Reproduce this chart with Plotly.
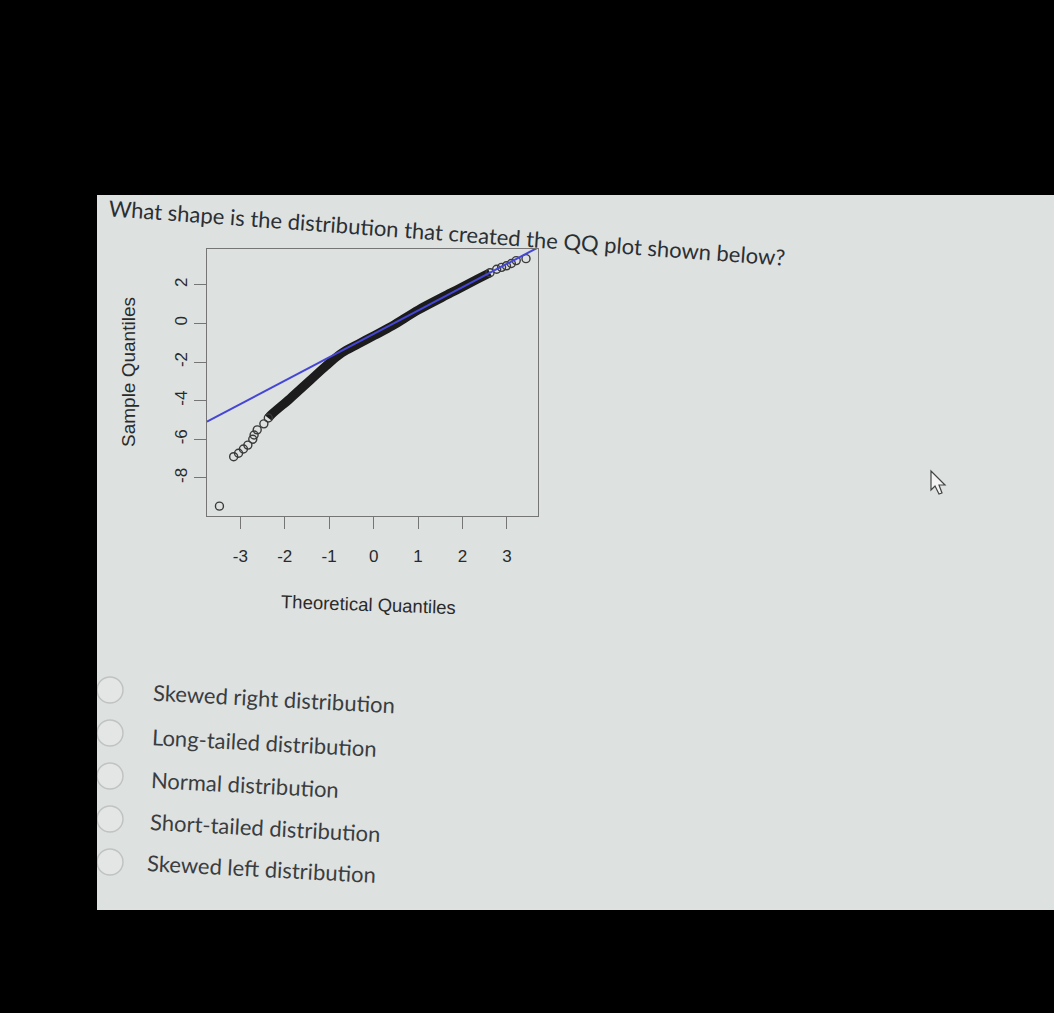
import plotly.graph_objects as go

W, H = 1054, 1013

# ---- data ----
tail_low_x = [-3.47, -3.15, -3.04, -2.93, -2.83, -2.72, -2.69, -2.62, -2.47, -2.37]
tail_low_y = [-9.46, -6.90, -6.72, -6.50, -6.30, -6.00, -5.78, -5.51, -5.20, -4.90]
band_x = [-2.37, -2.30, -1.88, -1.43, -1.07, -0.72, -0.34, 0.02, 0.42, 1.01, 1.74, 2.33, 2.62]
band_y = [-4.90, -4.72, -3.89, -2.95, -2.20, -1.54, -1.06, -0.62, -0.13, 0.70, 1.58, 2.28, 2.62]
tail_high_x = [2.62, 2.77, 2.88, 2.99, 3.10, 3.21, 3.43]
tail_high_y = [2.62, 2.80, 2.90, 2.98, 3.10, 3.25, 3.35]
qq_intercept = -0.55
qq_slope = 1.21
x_range = [-3.75, 3.70]
y_range = [-9.97, 3.85]
x_ticks = [-3, -2, -1, 0, 1, 2, 3]
x_tick_text = ["-3", "-2", "-1", "0", "1", "2", "3"]
y_ticks = [-8, -6, -4, -2, 0, 2]
y_tick_text = ["-8", "-6", "-4", "-2", "0", "2"]

question = "What shape is the distribution that created the QQ plot shown below?"
options = ["Skewed right distribution", "Long-tailed distribution", "Normal distribution",
           "Short-tailed distribution", "Skewed left distribution"]


def px(x):
    return x / W


def py(y):
    return 1 - y / H


fig = go.Figure()

fig.add_trace(go.Scatter(x=band_x, y=band_y, mode="lines",
                         line=dict(color="#1c1c1c", width=9, shape="spline"),
                         hoverinfo="skip", showlegend=False))
fig.add_trace(go.Scatter(x=tail_low_x + tail_high_x, y=tail_low_y + tail_high_y, mode="markers",
                         marker=dict(symbol="circle-open", size=8, color="#3a3a3a",
                                     line=dict(width=1.4, color="#3a3a3a")),
                         hoverinfo="skip", showlegend=False))
line_x = list(x_range)
line_y = [qq_intercept + qq_slope * v for v in line_x]
fig.add_trace(go.Scatter(x=line_x, y=line_y, mode="lines",
                         line=dict(color="#4646d6", width=2),
                         hoverinfo="skip", showlegend=False))

axis_common = dict(showgrid=False, zeroline=False, showline=True, mirror=True,
                   linecolor="#757575", linewidth=1.2, ticks="outside", ticklen=12,
                   tickcolor="#757575", tickwidth=1.2,
                   tickfont=dict(family="Liberation Sans, Arial", size=17, color="#2a2a2a"))

fig.update_xaxes(range=x_range, tickvals=x_ticks, ticktext=x_tick_text, ticklabelstandoff=12,
                 domain=[px(207), px(538)], **axis_common)
fig.update_yaxes(range=y_range, tickvals=y_ticks, ticktext=y_tick_text, tickangle=-90,
                 domain=[py(516), py(249)], **axis_common)

shapes = [
    dict(type="rect", xref="paper", yref="paper", x0=px(97), x1=px(1054), y0=py(910), y1=py(195),
         fillcolor="#dde1e0", line=dict(width=0), layer="below"),
]
radio_y = [690, 733, 776, 819, 862]
for ry in radio_y:
    shapes.append(dict(type="circle", xref="paper", yref="paper",
                       x0=px(97), x1=px(123), y0=py(ry + 13), y1=py(ry - 13),
                       fillcolor="#e4e6e5", line=dict(color="#c0c3c2", width=1.5), layer="below"))
# black strip on the left covers the clipped parts of the radio buttons
shapes.append(dict(type="rect", xref="paper", yref="paper", x0=0, x1=px(97), y0=0, y1=1,
                   fillcolor="#000000", line=dict(width=0), layer="above"))
# mouse cursor
cur = [(931, 471), (931, 490), (935, 486), (939, 494), (942, 493), (939, 485), (945, 485)]
path = "M " + " L ".join(f"{px(a):.5f},{py(b):.5f}" for a, b in cur) + " Z"
shapes.append(dict(type="path", xref="paper", yref="paper", path=path,
                   fillcolor="#f4f4f4", line=dict(color="#444", width=1.2), layer="above"))

annotations = [
    dict(text=question, x=px(447), y=py(232), xref="paper", yref="paper", showarrow=False,
         textangle=4.2, font=dict(family="Lato", size=22, color="#2b2f33"),
         xanchor="center", yanchor="middle"),
    dict(text="Sample Quantiles", x=px(128), y=py(372), xref="paper", yref="paper",
         showarrow=False, textangle=-90,
         font=dict(family="Liberation Sans, Arial", size=19, color="#2a2a2a"),
         xanchor="center", yanchor="middle"),
    dict(text="Theoretical Quantiles", x=px(368), y=py(604), xref="paper", yref="paper",
         showarrow=False, textangle=2,
         font=dict(family="Liberation Sans, Arial", size=18.5, color="#2a2a2a"),
         xanchor="center", yanchor="middle"),
]
opt_cx = [274, 264, 245, 265, 261]
opt_cy = [698, 742, 784, 827, 868]
for t, cx, cy in zip(options, opt_cx, opt_cy):
    annotations.append(dict(text=t, x=px(cx), y=py(cy), xref="paper", yref="paper",
                            showarrow=False, textangle=3,
                            font=dict(family="Lato", size=22, color="#3a3d40"),
                            xanchor="center", yanchor="middle"))

fig.update_layout(width=W, height=H, margin=dict(l=0, r=0, t=0, b=0),
                  paper_bgcolor="#000000", plot_bgcolor="rgba(0,0,0,0)",
                  shapes=shapes, annotations=annotations, showlegend=False)

fig.write_html("out.html", config={"displayModeBar": False},
               post_script="document.body.style.margin='0';document.body.style.background='#000';")
